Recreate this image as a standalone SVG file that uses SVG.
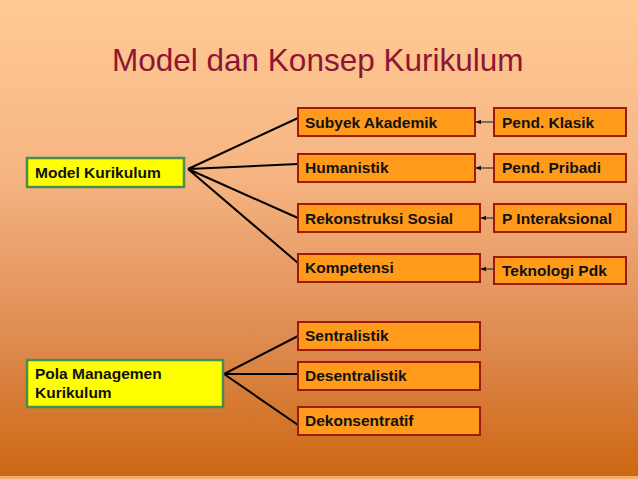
<svg xmlns="http://www.w3.org/2000/svg" width="638" height="479" viewBox="0 0 638 479">
<defs>
<linearGradient id="bg" x1="0" y1="0" x2="0" y2="1">
<stop offset="0" stop-color="#FFCA94"/>
<stop offset="0.35" stop-color="#F6B684"/>
<stop offset="0.7" stop-color="#DF8C52"/>
<stop offset="1" stop-color="#CC6611"/>
</linearGradient>
<marker id="ah" viewBox="0 0 10 10" refX="9" refY="5" markerWidth="5" markerHeight="5" orient="auto">
<path d="M0,1 L10,5 L0,9 z" fill="#111"/>
</marker>
<style>
.box{fill:#FF9A1A;stroke:#9E1A0A;stroke-width:2}
.ybox{fill:#FFFF00;stroke:#4A8C50;stroke-width:2.5}
.t{font-family:"Liberation Sans",Arial,sans-serif;font-weight:bold;font-size:15.5px;fill:#111}
.fan{stroke:#000;stroke-width:2;fill:none}
.arr{stroke:#333;stroke-width:1.2;fill:none;marker-end:url(#ah)}
</style>
</defs>
<rect x="0" y="0" width="638" height="479" fill="url(#bg)"/>
<rect x="0" y="476" width="638" height="3" fill="#F2AE6E"/>
<text x="112" y="71" font-family="Liberation Sans, Arial, sans-serif" font-size="31.5" fill="#8E1533">Model dan Konsep Kurikulum</text>

<g id="connectors">
<path class="fan" d="M188,169 L298,118 M188,169 L298,164 M188,169 L298,218 M188,169 L298,263"/>
<path class="fan" d="M224,374 L298,336 M224,374 L298,374 M224,374 L298,425"/>
<line class="arr" x1="494" y1="122" x2="476" y2="122"/>
<line class="arr" x1="494" y1="168" x2="476" y2="168"/>
<line class="arr" x1="494" y1="218" x2="481" y2="218"/>
<line class="arr" x1="494" y1="269" x2="481" y2="269"/>
</g>

<g id="model-kurikulum"><rect class="ybox" x="27" y="158" width="157" height="29"/><text class="t" x="35" y="178">Model Kurikulum</text></g>
<g id="pola-managemen"><rect class="ybox" x="27" y="360" width="196" height="47"/><text class="t" x="35" y="379">Pola Managemen</text><text class="t" x="35" y="398">Kurikulum</text></g>

<g id="subyek-akademik"><rect class="box" x="298" y="108" width="177" height="28"/><text class="t" x="305" y="127.5">Subyek Akademik</text></g>
<g id="humanistik"><rect class="box" x="298" y="154" width="177" height="28"/><text class="t" x="305" y="173">Humanistik</text></g>
<g id="rekonstruksi-sosial"><rect class="box" x="298" y="204" width="182" height="28"/><text class="t" x="305" y="224">Rekonstruksi Sosial</text></g>
<g id="kompetensi"><rect class="box" x="298" y="254" width="182" height="28"/><text class="t" x="305" y="273">Kompetensi</text></g>

<g id="pend-klasik"><rect class="box" x="494" y="108" width="132" height="28"/><text class="t" x="502" y="127.5">Pend. Klasik</text></g>
<g id="pend-pribadi"><rect class="box" x="494" y="154" width="132" height="28"/><text class="t" x="502" y="173">Pend. Pribadi</text></g>
<g id="p-interaksional"><rect class="box" x="494" y="204" width="132" height="28"/><text class="t" x="502" y="224">P Interaksional</text></g>
<g id="teknologi-pdk"><rect class="box" x="494" y="257" width="132" height="27"/><text class="t" x="502" y="276">Teknologi Pdk</text></g>

<g id="sentralistik"><rect class="box" x="298" y="322" width="182" height="28"/><text class="t" x="305" y="341">Sentralistik</text></g>
<g id="desentralistik"><rect class="box" x="298" y="362" width="182" height="28"/><text class="t" x="305" y="381">Desentralistik</text></g>
<g id="dekonsentratif"><rect class="box" x="298" y="407" width="182" height="28"/><text class="t" x="305" y="425.5">Dekonsentratif</text></g>
</svg>
